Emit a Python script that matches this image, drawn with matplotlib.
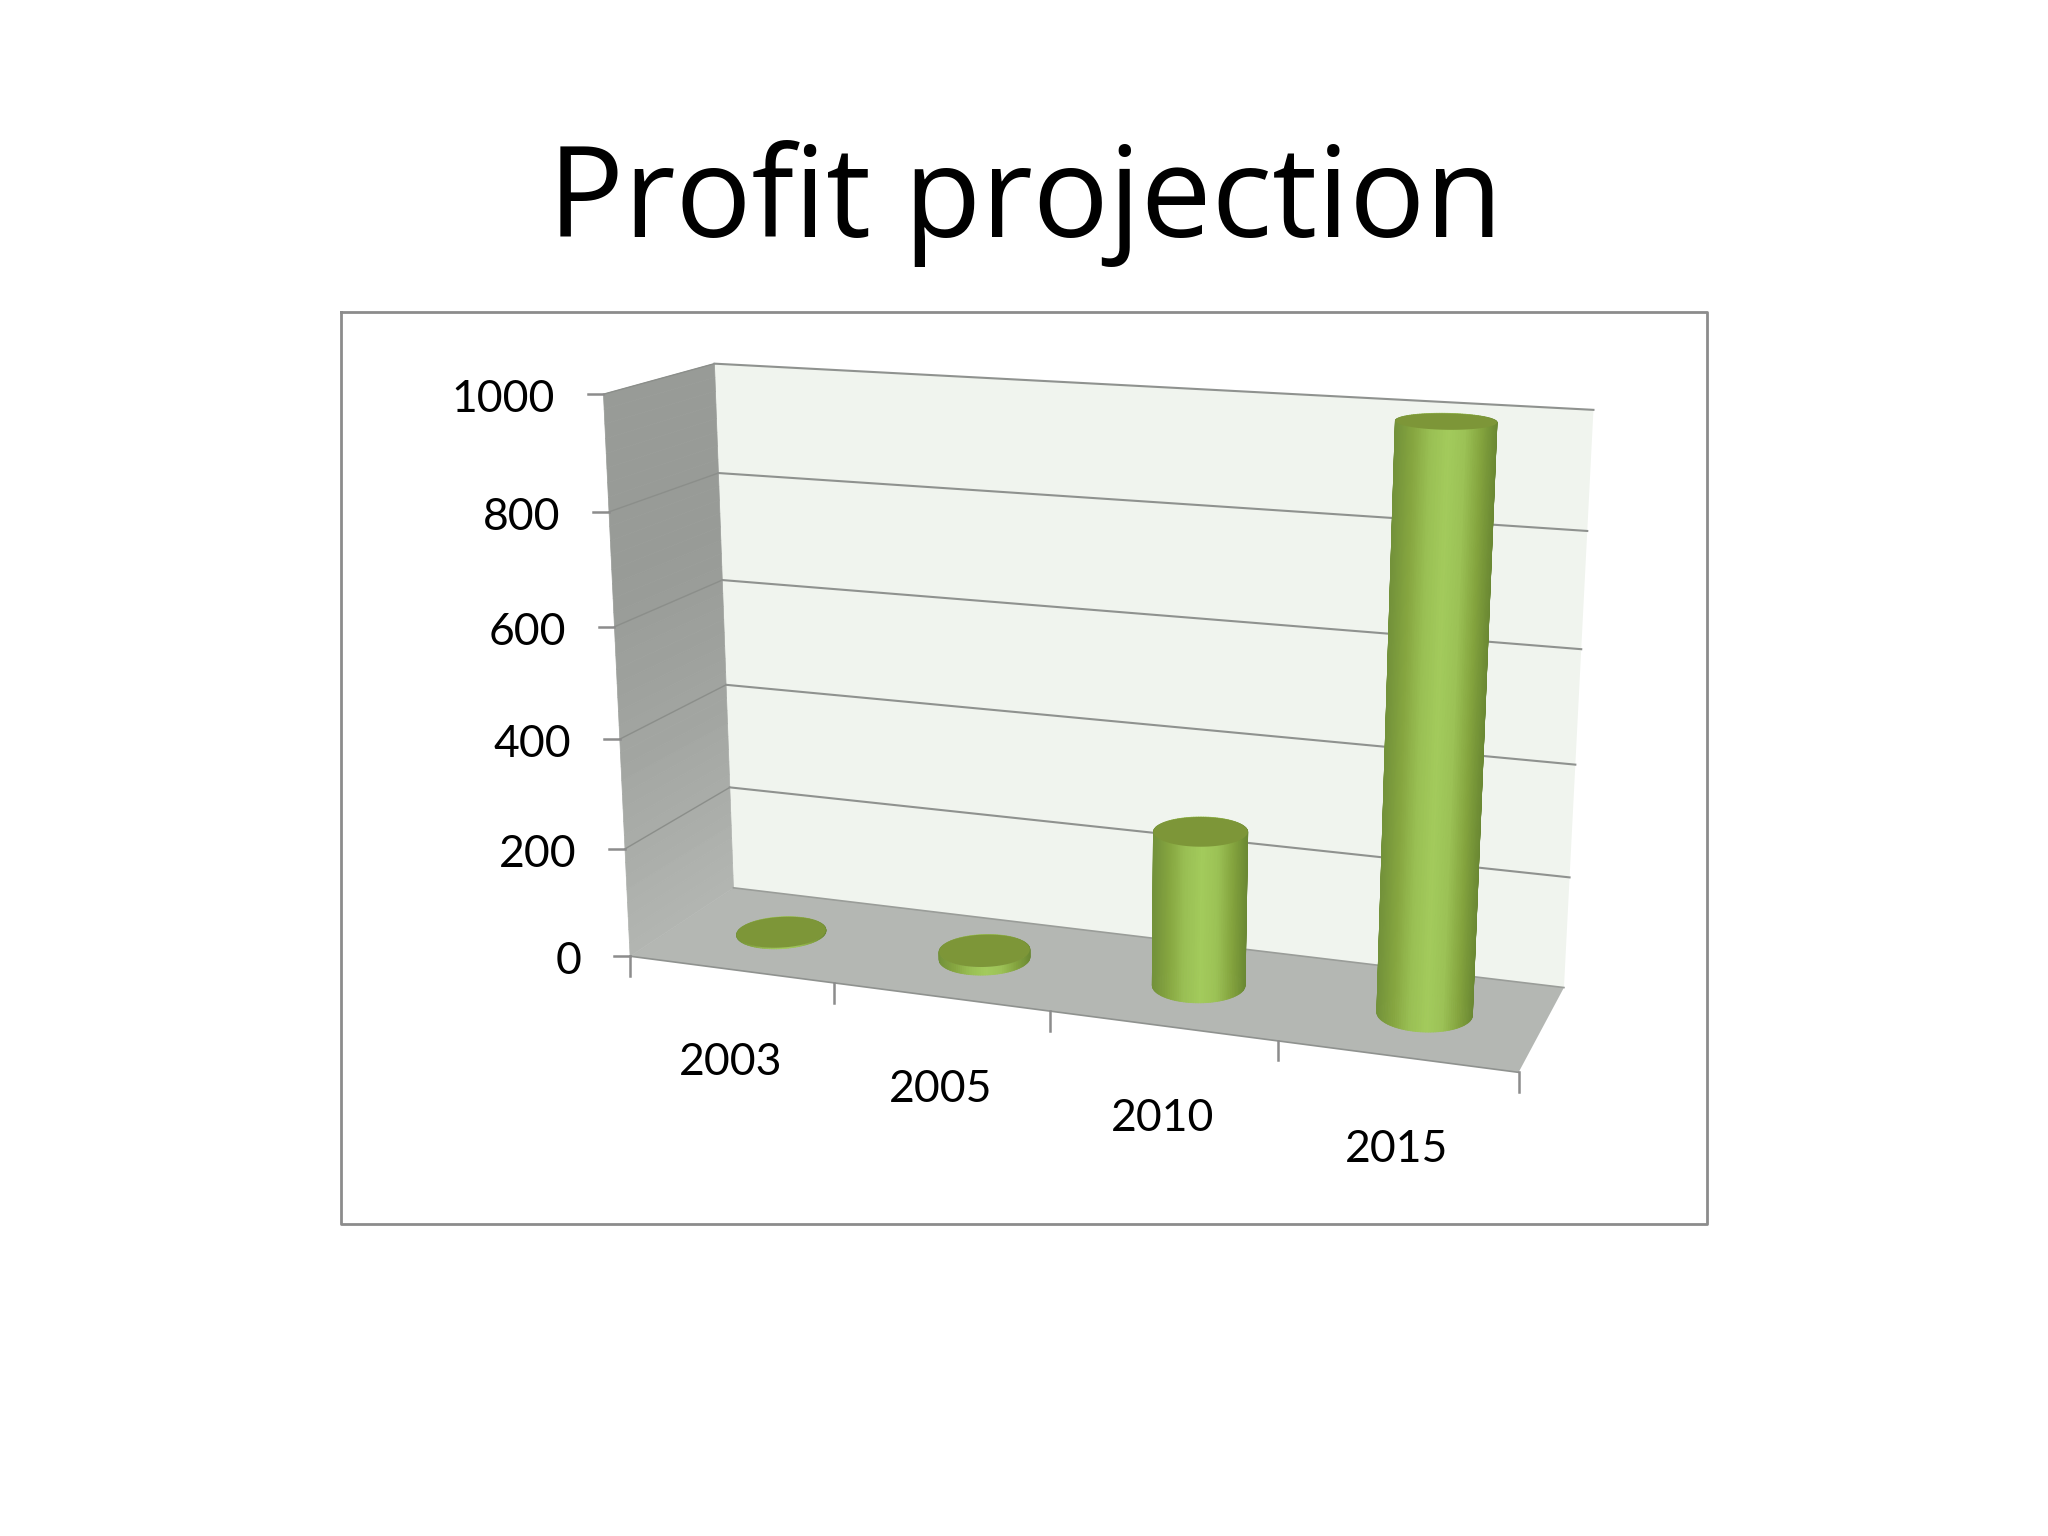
import numpy as np
import matplotlib
matplotlib.use('Agg')
import matplotlib.pyplot as plt
from matplotlib.collections import PolyCollection
from matplotlib.colors import LinearSegmentedColormap

years = ['2003', '2005', '2010', '2015']
profit = [2, 15, 278, 1000]
y_ticks = [0, 200, 400, 600, 800, 1000]
title = 'Profit projection'

# picture is laid out on a 1568 x 1176 grid
W, H = 1568, 1176

# box corners (category, depth, value) and where they land on the grid
box_3d = [(0, 0, 0), (0, 1, 0), (4, 1, 0), (4, 0, 0),
          (0, 0, 1000), (0, 1, 1000), (4, 1, 1000)]
box_2d = [(483, 732), (561, 680), (1198, 755), (1162, 822),
          (462, 301), (547, 279), (1220, 314)]


def fit_camera(pts3, pts2):
    rows = []
    for (x, y, z), (u, v) in zip(pts3, pts2):
        z = z / 1000
        rows.append([x, y, z, 1, 0, 0, 0, 0, -u * x, -u * y, -u * z, -u])
        rows.append([0, 0, 0, 0, x, y, z, 1, -v * x, -v * y, -v * z, -v])
    vt = np.linalg.svd(np.array(rows, dtype=float))[2]
    return vt[-1].reshape(3, 4)


cam = fit_camera(box_3d, box_2d)


def project(x, y, z):
    x, y, z = np.broadcast_arrays(np.asarray(x, float), np.asarray(y, float), np.asarray(z, float))
    p = cam @ np.stack([x, y, z / 1000, np.ones_like(x)])
    return p[0] / p[2], p[1] / p[2]


def poly(x, y, z):
    u, v = project(x, y, z)
    return np.column_stack([u, v])


fig = plt.figure(figsize=(20.48, 15.36), dpi=100)
ax = fig.add_axes([0, 0, 1, 1])
ax.set_xlim(0, W)
ax.set_ylim(H, 0)
ax.axis('off')

# outer frame
ax.plot([261, 1307, 1307, 261, 261], [239, 239, 937, 937, 239], color='#8c8c8c', lw=2, zorder=1)

ax.text(785, 155.5, title, family='Open Sans', fontsize=91, ha='center', va='center', color='black')

# floor and back wall
ax.fill(*poly([0, 4, 4, 0], [0, 0, 1, 1], 0).T, color='#b4b7b3', lw=0, zorder=2)
ax.fill(*poly([0, 4, 4, 0], [1, 1, 1, 1], [0, 0, 1000, 1000]).T, color='#f0f4ee', lw=0, zorder=2)

# side wall, darker towards the top
wall_cmap = LinearSegmentedColormap.from_list('wall', ['#b2b5b1', '#a3a6a2', '#989b97', '#989b97'])
zs = np.linspace(0, 1000, 41)
quads = [poly([0, 0, 0, 0], [0, 1, 1, 0], [a, a, b, b]) for a, b in zip(zs[:-1], zs[1:])]
ax.add_collection(PolyCollection(quads, facecolors=wall_cmap(zs[:-1] / 1000),
                                 edgecolors=wall_cmap(zs[:-1] / 1000), lw=0.5, zorder=3))

# gridlines and axis ticks
for v in y_ticks:
    if v > 0:
        ax.plot(*poly([0, 0], [0, 1], v).T, color='#8b8e8a', lw=1.0, zorder=4)
        ax.plot(*poly([0, 4], [1, 1], v).T, color='#8f928f', lw=1.5, zorder=4)
    tx, ty = project(0, 0, v)
    ax.plot([tx - 12, tx], [ty, ty], color='#8c8c8c', lw=1.8, zorder=4)
    ax.text(tx - 37, ty + 4, str(v), family='Lato', fontsize=32, ha='right', va='center', color='black')

ax.plot(*poly([0, 4], [0, 0], 0).T, color='#8f928f', lw=1.2, zorder=4)
ax.plot(*poly([0, 4], [1, 1], 0).T, color='#9a9d99', lw=1.2, zorder=4)

for i in range(5):
    tx, ty = project(i, 0, 0)
    ax.plot([tx, tx], [ty, ty + 15], color='#8c8c8c', lw=1.8, zorder=4)

for i, name in enumerate(years):
    tx, ty = project(i + 0.5, 0, 0)
    ax.text(tx, ty + 71, name, family='Lato', fontsize=32, ha='center', va='center', color='black')

# cylinders
side_cmap = LinearSegmentedColormap.from_list(
    'side', ['#73923a', '#86a640', '#9ac054', '#a3cb5c', '#9cc256', '#84a43e', '#6a8833'])
rx, ry = 0.2, 0.21
theta = np.linspace(0, 2 * np.pi, 121)

for i, val in enumerate(profit):
    cx, cy = i + 0.5, 0.5
    xs = cx + rx * np.cos(theta)
    ys = cy + ry * np.sin(theta)
    low = poly(xs, ys, 0)
    top = poly(xs, ys, val)
    left, right = low[:, 0].min(), low[:, 0].max()
    quads, cols = [], []
    order = sorted(range(len(theta) - 1), key=lambda k: -np.sin(theta[k]))
    for k in order:
        quads.append([low[k], low[k + 1], top[k + 1], top[k]])
        cols.append(side_cmap(np.clip((low[k, 0] - left) / (right - left), 0, 1)))
    ax.add_collection(PolyCollection(quads, facecolors=cols, edgecolors=cols, lw=0.6, zorder=5 + i))
    ax.fill(top[:, 0], top[:, 1], color='#7d9638', lw=0, zorder=5 + i)

fig.savefig('out.png', dpi=100)
